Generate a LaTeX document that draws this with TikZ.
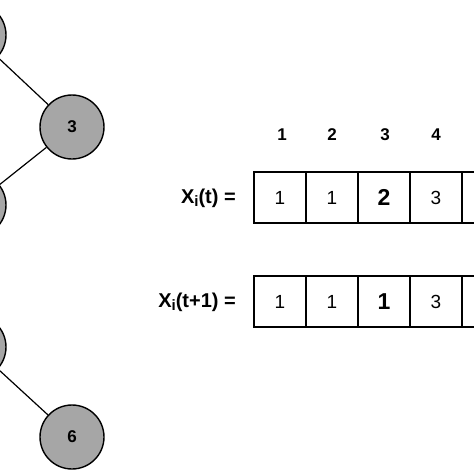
\documentclass[tikz,border=0pt]{standalone}
\usepackage{fontspec}
\setmainfont{Liberation Sans}[BoldFont={Liberation Sans Bold}]
\definecolor{nodegray}{HTML}{A6A6A6}
\newcommand{\subi}{\raisebox{-0.3ex}{\fontsize{15}{15}\selectfont i}}
\begin{document}
\begin{tikzpicture}[x=1pt,y=-1pt,
  vertex/.style={circle, draw, line width=1.4pt, fill=nodegray, minimum size=64pt, inner sep=0pt, font=\fontsize{17}{17}\selectfont\bfseries},
  edge/.style={line width=1.2pt},
  cell/.style={draw, line width=1.4pt, minimum width=52pt, minimum height=51pt, inner sep=0pt, font=\fontsize{19}{19}\selectfont},
  bigcell/.style={cell, font=\fontsize{23}{23}\selectfont\bfseries},
  header/.style={font=\fontsize{17}{17}\selectfont\bfseries},
  lbl/.style={anchor=east, inner sep=0pt, font=\fontsize{20}{20}\selectfont\bfseries}]
\useasboundingbox (0,0) rectangle (474,474);
\clip (0,0) rectangle (474,474);
% graph
\node[vertex] (n2) at (-26,35) {};
\node[vertex] (n3) at (72,127) {3};
\node[vertex] (n4) at (-26,205) {};
\node[vertex] (n5) at (-26,347) {};
\node[vertex] (n6) at (72,437) {6};
\draw[edge] (n2) -- (n3);
\draw[edge] (n4) -- (n3);
\draw[edge] (n5) -- (n6);
% headers
\node[header] (h1) at (282,135) {1};
\node[header] (h2) at (332,135) {2};
\node[header] (h3) at (385,135) {3};
\node[header] (h4) at (436,135) {4};
% row 1
\node[lbl] (l1) at (236,198) {X\subi(t) =};
\node[cell] (a1) at (280,197.5) {1};
\node[cell] (a2) at (332,197.5) {1};
\node[bigcell] (a3) at (384,197.5) {2};
\node[cell] (a4) at (436,197.5) {3};
\node[cell] (a5) at (488,197.5) {};
% row 2
\node[lbl] (l2) at (236,302) {X\subi(t+1) =};
\node[cell] (b1) at (280,301.5) {1};
\node[cell] (b2) at (332,301.5) {1};
\node[bigcell] (b3) at (384,301.5) {1};
\node[cell] (b4) at (436,301.5) {3};
\node[cell] (b5) at (488,301.5) {};
\end{tikzpicture}
\end{document}
